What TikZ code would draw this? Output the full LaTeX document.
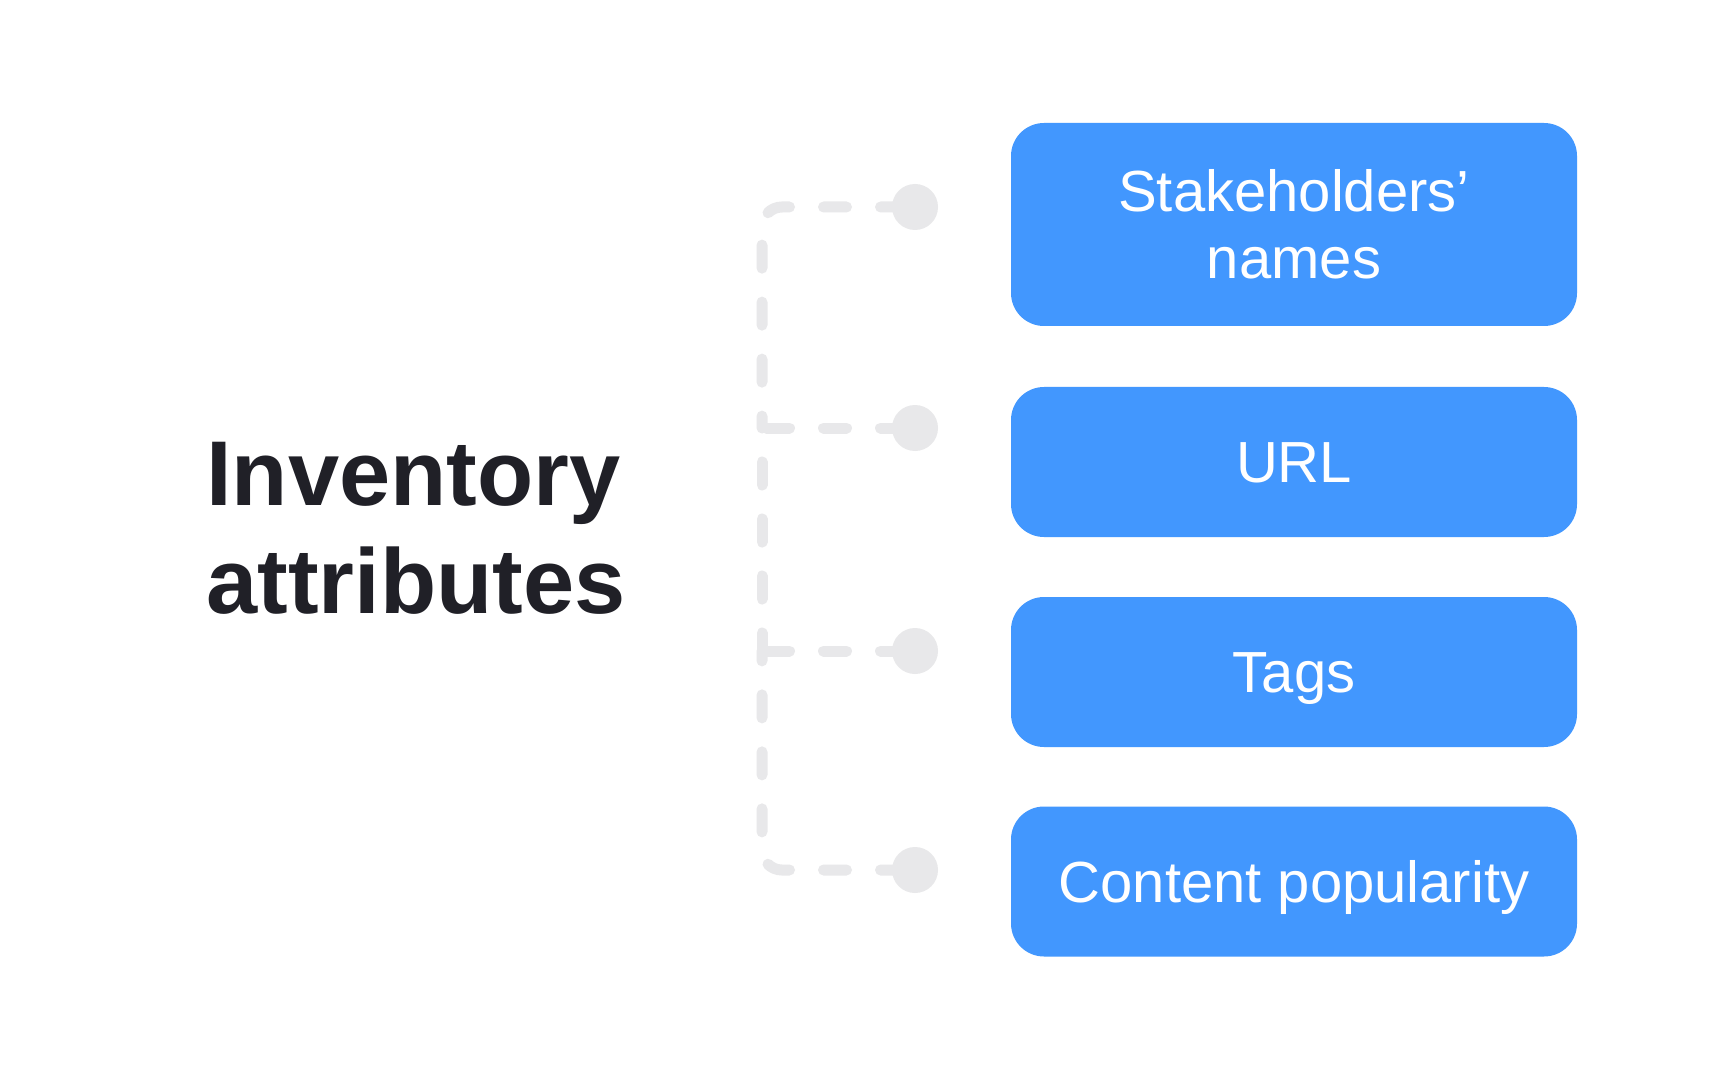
\documentclass[tikz,border=0pt]{standalone}
\usepackage{fontspec}
\setmainfont{Liberation Sans}
\definecolor{boxblue}{HTML}{4297FE}
\definecolor{dotgray}{HTML}{E8E8EA}
\definecolor{titleink}{HTML}{202027}
\begin{document}
\begin{tikzpicture}[x=0.5pt,y=-0.5pt,
  attrbox/.style={draw=none,fill=boxblue,rounded corners=16.5pt,minimum width=283pt,
    inner sep=0pt,text=white,font=\fontsize{29}{33.5}\selectfont,align=center},
  oneline/.style={text height=20.8pt,text depth=0pt},
  dotnode/.style={circle,fill=dotgray,draw=none,minimum size=23pt,inner sep=0pt},
  link/.style={draw=dotgray,line width=5.5pt,line cap=round,
    dash pattern=on 11.5pt off 17pt,dash phase=22.75pt},
  titletext/.style={anchor=base west,inner sep=0pt,text=titleink,
    font=\fontsize{46}{54}\selectfont\bfseries}]
\useasboundingbox (0,0) rectangle (1728,1080);
\fill[white] (0,0) rectangle (1728,1080);

% title
\node[titletext] (t1) at (206,505) {Inventory};
\node[titletext] (t2) at (206,613) {attributes};

% boxes
\node[attrbox,minimum height=101.5pt] (b1) at (1294,224.5) {Stakeholders’\\names};
\node[attrbox,oneline,minimum height=75pt] (b2) at (1294,462) {URL};
\node[attrbox,oneline,minimum height=75pt] (b3) at (1294,672) {Tags};
\node[attrbox,oneline,minimum height=75pt] (b4) at (1294,881.5) {Content popularity};

% connector geometry
\coordinate (p1) at (915,207);
\coordinate (p2) at (915,428);
\coordinate (p3) at (915,651);
\coordinate (p4) at (915,870);
\coordinate (j2) at (762,428);
\coordinate (j3) at (762,651);

\draw[link,rounded corners=10pt] (p1) -| (j2);
\draw[link] (p2) -- (j2);
\draw[link,dash phase=11.5pt] (j2) -- (j3);
\draw[link] (p3) -- (j3);
\draw[link,rounded corners=10pt] (p4) -| (j3);

% dots
\node[dotnode] (d1) at (p1) {};
\node[dotnode] (d2) at (p2) {};
\node[dotnode] (d3) at (p3) {};
\node[dotnode] (d4) at (p4) {};
\end{tikzpicture}
\end{document}
